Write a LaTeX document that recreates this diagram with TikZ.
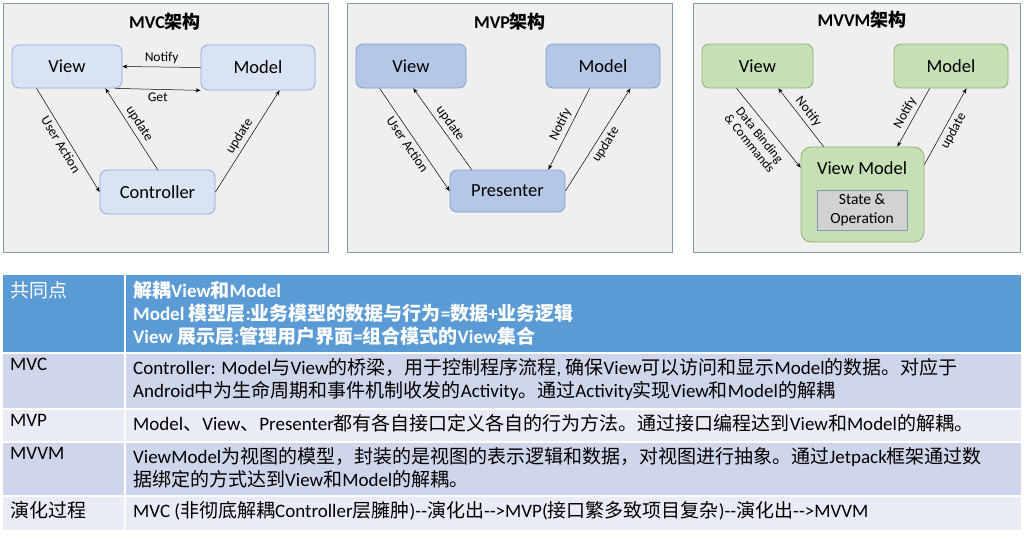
\documentclass[tikz,border=0pt]{standalone}
\usepackage{fontspec}
\setmainfont{Carlito}
\newfontfamily\cjk{Noto Sans CJK SC}
\newcommand\zh[1]{{\cjk #1}}
\usetikzlibrary{calc,arrows.meta}
\definecolor{panelbg}{HTML}{EFEFEF}
\definecolor{panelbd}{HTML}{8497B0}
\definecolor{mvcf}{HTML}{DAE3F3}
\definecolor{mvcd}{HTML}{8FAADC}
\definecolor{mvpf}{HTML}{B4C7E7}
\definecolor{mvpd}{HTML}{7F9FD0}
\definecolor{mvvf}{HTML}{C5E0B4}
\definecolor{mvvd}{HTML}{8CB070}
\definecolor{hdr}{HTML}{5B9BD5}
\definecolor{rowa}{HTML}{CFD5EA}
\definecolor{rowb}{HTML}{E9EBF5}
\tikzset{
 panel/.style={draw=panelbd,fill=panelbg,line width=0.8pt},
 box/.style={rounded corners=7pt,line width=0.8pt,font=\fontsize{18.5}{20}\selectfont,inner sep=0pt},
 title/.style={font=\bfseries\fontsize{18}{20}\selectfont},
 arr/.style={-{Stealth[length=5pt,width=4pt]},line width=0.5pt,black},
 lab/.style={font=\fontsize{13.5}{14}\selectfont,sloped,midway},
 cell/.style={anchor=north west,align=left,inner sep=0pt,font=\fontsize{19}{23}\selectfont},
}
\begin{document}
\begin{tikzpicture}[x=1pt,y=-1pt]
\useasboundingbox (0,0) rectangle (1024,538);
\fill[white] (0,0) rectangle (1024,538);
% panels
\draw[panel] (3,3) rectangle (328,252);
\draw[panel] (347,3) rectangle (672,252);
\draw[panel] (693,3) rectangle (1020,252);
\node[title] (t1) at (165,22) {MVC\zh{架构}};
\node[title] (t2) at (510,22) {MVP\zh{架构}};
\node[title] (t3) at (862,20) {MVVM\zh{架构}};
% MVC
\node[box,draw=mvcd,fill=mvcf,minimum width=110pt,minimum height=43pt] (mv) at (67,66.5) {View};
\node[box,draw=mvcd,fill=mvcf,minimum width=114pt,minimum height=45pt] (mm) at (258,67.5) {Model};
\node[box,draw=mvcd,fill=mvcf,minimum width=115pt,minimum height=44pt] (mc) at (157.5,192) {Controller};
\draw[arr] (mm.west) -- node[lab,above] {Notify} (mv.east);
\draw[arr] ([xshift=-7pt]mv.south east) -- node[lab,below] {Get} (mm.south west);
\draw[arr] ([xshift=25pt]mv.south west) -- node[lab,below] {User Action} (mc.west);
\draw[arr] ([xshift=58pt]mc.north west) -- node[lab,above] {update} ([xshift=-17pt]mv.south east);
\draw[arr] (mc.east) -- node[lab,above] {update} ([xshift=79pt]mm.south west);
% MVP
\node[box,draw=mvpd,fill=mvpf,minimum width=110pt,minimum height=44pt] (pv) at (411,66) {View};
\node[box,draw=mvpd,fill=mvpf,minimum width=114pt,minimum height=44pt] (pm) at (603,66) {Model};
\node[box,draw=mvpd,fill=mvpf,minimum width=115pt,minimum height=42pt] (pp) at (507.5,191) {Presenter};
\draw[arr] ([xshift=24pt]pv.south west) -- node[lab,below] {User Action} (pp.west);
\draw[arr] ([xshift=22pt]pp.north west) -- node[lab,above] {update} ([xshift=-53pt]pv.south east);
\draw[arr] ([xshift=44pt]pm.south west) -- node[lab,above] {Notify} ([xshift=-17pt]pp.north east);
\draw[arr] (pp.east) -- node[lab,below] {update} ([xshift=-30pt]pm.south east);
% MVVM
\node[box,draw=mvvd,fill=mvvf,minimum width=111pt,minimum height=44pt] (vv) at (757.5,66) {View};
\node[box,draw=mvvd,fill=mvvf,minimum width=114pt,minimum height=44pt] (vm) at (951,66) {Model};
\node[box,draw=mvvd,fill=mvvf,rounded corners=10pt,minimum width=123pt,minimum height=95pt] (vvm) at (862.5,194.5) {};
\node[font=\fontsize{18.5}{20}\selectfont] (vvmt) at (862,168) {View Model};
\node[draw=panelbd,fill=gray!35!white,line width=0.6pt,minimum width=90pt,minimum height=40pt,align=center,inner sep=0pt,font=\fontsize{15.5}{19}\selectfont] (st) at (862,210) {State \&\\Operation};
\draw[arr] ([xshift=35pt]vv.south west) -- node[lab,below=3pt,align=center,font=\fontsize{13}{13}\selectfont] {Data Binding\\\& Commands} ([yshift=-21pt]vvm.north west);
\draw[arr] ([xshift=23pt]vvm.north west) -- node[lab,above] {Notify} ([xshift=-35pt]vv.south east);
\draw[arr] ([xshift=36pt]vm.south west) -- node[lab,above] {Notify} ([xshift=-27pt]vvm.north east);
\draw[arr] ([yshift=-18pt]vvm.north east) -- node[lab,below] {update} ([xshift=-42pt]vm.south east);
% table
\fill[hdr] (3,275) rectangle (1021,352);
\fill[rowa] (3,354) rectangle (1021,408);
\fill[rowb] (3,410) rectangle (1021,441);
\fill[rowa] (3,443) rectangle (1021,495);
\fill[rowb] (3,497) rectangle (1021,530);
\draw[white,line width=1.5pt] (125,275) -- (125,530);
\node[cell,text=white] (h1) at (10,281) {\zh{共同点}};
\node[cell,text=white,font=\bfseries\fontsize{19}{23}\selectfont] (h2) at (133,281) {\zh{解耦}View\zh{和}Model\\Model \zh{模型层}:\zh{业务模型的数据与行为}=\zh{数据}+\zh{业务逻辑}\\View \zh{展示层}:\zh{管理用户界面}=\zh{组合模式的}View\zh{集合}};
\node[cell] (r1) at (10,358) {MVC};
\node[cell] (r1t) at (133,358) {Controller: Model\zh{与}View\zh{的桥梁，用于控制程序流程}, \zh{确保}View\zh{可以访问和显示}Model\zh{的数据。对应于}\\Android\zh{中为生命周期和事件机制收发的}Activity\zh{。通过}Activity\zh{实现}View\zh{和}Model\zh{的解耦}};
\node[cell] (r2) at (10,414) {MVP};
\node[cell] (r2t) at (133,414) {Model\zh{、}View\zh{、}Presenter\zh{都有各自接口定义各自的行为方法。通过接口编程达到}View\zh{和}Model\zh{的解耦。}};
\node[cell] (r3) at (10,447) {MVVM};
\node[cell] (r3t) at (133,447) {ViewModel\zh{为视图的模型，封装的是视图的表示逻辑和数据，对视图进行抽象。通过}Jetpack\zh{框架通过数}\\\zh{据绑定的方式达到}View\zh{和}Model\zh{的解耦。}};
\node[cell] (r4) at (10,501) {\zh{演化过程}};
\node[cell] (r4t) at (133,501) {MVC (\zh{非彻底解耦}Controller\zh{层臃肿})-{}-\zh{演化出}-{}->MVP(\zh{接口繁多致项目复杂})-{}-\zh{演化出}-{}->MVVM};
\end{tikzpicture}
\end{document}
